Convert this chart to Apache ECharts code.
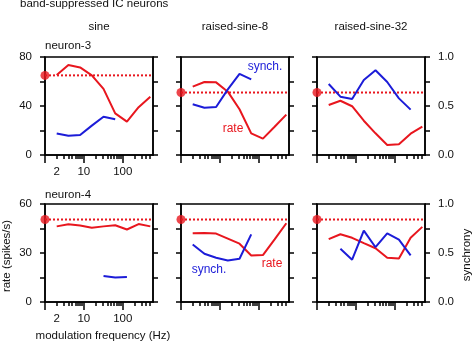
<!DOCTYPE html>
<html><head><meta charset="utf-8">
<script src="https://cdn.jsdelivr.net/npm/echarts@6/dist/echarts.min.js"></script>
<style>html,body{margin:0;padding:0;background:#fff}#c{width:474px;height:343px}</style>
</head><body><div id="c"></div>
<script>
// ---- data ----
const freqs = [2, 4, 8, 16, 32, 64, 128, 256, 512];
const stimuli = ['sine', 'raised-sine-8', 'raised-sine-32'];
const neurons = ['neuron-3', 'neuron-4'];
const rateN3Sine = [65.3, 73.5, 71.5, 65, 54, 34, 27.3, 39, 47.6];
const syncN3Sine = [0.22, 0.196, 0.204, 0.30, 0.39, 0.364, null, null, null];
const rateN3RS8 = [55.8, 59.6, 59.3, 51.7, 37.3, 17.7, 13.4, 23.1, 33];
const syncN3RS8 = [0.517, 0.483, 0.49, 0.67, 0.827, 0.772, null, null, null];
const rateN3RS32 = [40.8, 44.3, 39.8, 28, 17.7, 8.2, 8.7, 17.4, 23.1];
const syncN3RS32 = [0.724, 0.595, 0.571, 0.765, 0.864, 0.745, 0.578, 0.463, null];
const rateN4Sine = [46.3, 47.6, 46.9, 45.5, 46.3, 47, 44.4, 47.7, 46.3];
const syncN4Sine = [null, null, null, null, 0.265, 0.25, 0.255, null, null];
const rateN4RS8 = [42.1, 42.3, 41.9, 38.8, 35.7, 28.5, 28.7, 38.3, 48.2];
const syncN4RS8 = [0.586, 0.492, 0.451, 0.424, 0.441, 0.69, null, null, null];
const rateN4RS32 = [38.5, 41.5, 39.3, 36, 32.9, 27.1, 26.7, 39.4, 46];
const syncN4RS32 = [null, 0.543, 0.432, 0.729, 0.559, 0.70, 0.637, 0.475, null];
const spontRate = [[65, 51, 51], [50.5, 50.5, 50.5]];
const rateMax = [80, 60];
const syncMax = 1;
const xMin = 1, xMax = 600;
const majorTicks = [1, 10, 100];
const minorTicks = [2, 3, 4, 5, 6, 7, 8, 9, 20, 30, 40, 50, 60, 70, 80, 90, 200, 300, 400, 500];
const xLabels = [2, 10, 100];

// ---- build ----
const RED = '#e8161e', BLUE = '#1c1cd8', INK = '#111';
const FONT = 'Liberation Sans, Arial, sans-serif';
const L = Math.log10;
const rates = [[rateN3Sine, rateN3RS8, rateN3RS32], [rateN4Sine, rateN4RS8, rateN4RS32]];
const syncs = [[syncN3Sine, syncN3RS8, syncN3RS32], [syncN4Sine, syncN4RS8, syncN4RS32]];
const lefts = [45, 181, 317], tops = [57, 204], W = 108, H = 98;
const axLine = { show: true, onZero: false, lineStyle: { color: '#000', width: 1.5 } };
const tickStyle = { color: '#000', width: 1.5 };
const grid = [], xAxis = [], yAxis = [], series = [];
for (let r = 0; r < 2; r++) {
  for (let c = 0; c < 3; c++) {
    const i = r * 3 + c;
    grid.push({ left: lefts[c], top: tops[r], width: W, height: H, show: true, borderColor: '#000', borderWidth: 1.5 });
    xAxis.push({
      gridIndex: i, type: 'value', min: L(xMin), max: L(xMax), position: 'bottom',
      axisLine: axLine,
      axisTick: { show: true, customValues: majorTicks.map(L), length: 8, lineStyle: tickStyle },
      axisLabel: { show: c === 0, customValues: xLabels.map(L), formatter: v => String(Math.round(Math.pow(10, v))), margin: 11, fontSize: 11.5, color: INK, fontFamily: FONT },
      splitLine: { show: false }
    });
    xAxis.push({
      gridIndex: i, type: 'value', min: L(xMin), max: L(xMax), position: 'bottom',
      axisLine: { show: false, onZero: false },
      axisTick: { show: true, customValues: minorTicks.map(L), length: 4, lineStyle: tickStyle },
      axisLabel: { show: false },
      splitLine: { show: false }
    });
    const rm = rateMax[r];
    yAxis.push({
      gridIndex: i, type: 'value', min: 0, max: rm, interval: rm / 4, position: 'left',
      axisLine: axLine,
      axisTick: { show: true, length: 5, lineStyle: tickStyle },
      axisLabel: { show: c === 0, formatter: v => (v % (rm / 2) === 0 ? String(v) : ''), margin: 13, fontSize: 11.5, color: INK, fontFamily: FONT },
      splitLine: { show: false }
    });
    yAxis.push({
      gridIndex: i, type: 'value', min: 0, max: syncMax, interval: 0.25, position: 'right',
      axisLine: axLine,
      axisTick: { show: true, length: 5, lineStyle: tickStyle },
      axisLabel: { show: c === 2, formatter: v => (Math.abs((v * 2) - Math.round(v * 2)) < 1e-9 ? v.toFixed(1) : ''), margin: 13, fontSize: 11.5, color: INK, fontFamily: FONT },
      splitLine: { show: false }
    });
    const sp = spontRate[r][c];
    series.push({
      type: 'line', xAxisIndex: 2 * i, yAxisIndex: 2 * i,
      data: [[L(xMin), sp], [L(xMax), sp]], symbol: 'none',
      lineStyle: { color: RED, width: 2, type: [2, 2] }, silent: true, z: 2
    });
    series.push({
      type: 'scatter', xAxisIndex: 2 * i, yAxisIndex: 2 * i,
      data: [[L(xMin), sp]], symbol: 'circle', symbolSize: 9, clip: false,
      itemStyle: { color: RED }, silent: true, z: 5
    });
    series.push({
      type: 'line', xAxisIndex: 2 * i, yAxisIndex: 2 * i,
      data: freqs.map((f, k) => [L(f), rates[r][c][k] == null ? '-' : rates[r][c][k]]),
      symbol: 'none', connectNulls: false,
      lineStyle: { color: RED, width: 2 }, silent: true, z: 3
    });
    series.push({
      type: 'line', xAxisIndex: 2 * i, yAxisIndex: 2 * i + 1,
      data: freqs.map((f, k) => [L(f), syncs[r][c][k] == null ? '-' : syncs[r][c][k]]),
      symbol: 'none', connectNulls: false,
      lineStyle: { color: BLUE, width: 2 }, silent: true, z: 3
    });
  }
}
function txt(text, x, y, opts) {
  opts = opts || {};
  return {
    type: 'text', x: x, y: y, rotation: opts.rot || 0, silent: true,
    style: { text: text, fill: opts.fill || INK, font: (opts.size || 11.5) + 'px ' + FONT,
      textAlign: opts.align || 'center', textVerticalAlign: 'middle' }
  };
}
const graphic = [
  txt('band-suppressed IC neurons', 20, 4, { align: 'left' }),
  txt(stimuli[0], 99, 27), txt(stimuli[1], 235, 27), txt(stimuli[2], 371, 27),
  txt(neurons[0], 45, 46, { align: 'left' }),
  txt(neurons[1], 45, 195, { align: 'left' }),
  txt('rate (spikes/s)', 7, 256, { rot: Math.PI / 2 }),
  txt('synchrony', 467, 255, { rot: Math.PI / 2 }),
  txt('modulation frequency (Hz)', 103, 336),
  txt('synch.', 265, 67, { fill: BLUE, size: 12 }),
  txt('rate', 233, 129, { fill: RED, size: 12 }),
  txt('synch.', 209, 270, { fill: BLUE, size: 12 }),
  txt('rate', 272, 264, { fill: RED, size: 12 })
];
const chart = echarts.init(document.getElementById('c'), null, { renderer: 'canvas' });
chart.setOption({ animation: false, backgroundColor: '#fff', grid, xAxis, yAxis, series, graphic });
</script></body></html>
